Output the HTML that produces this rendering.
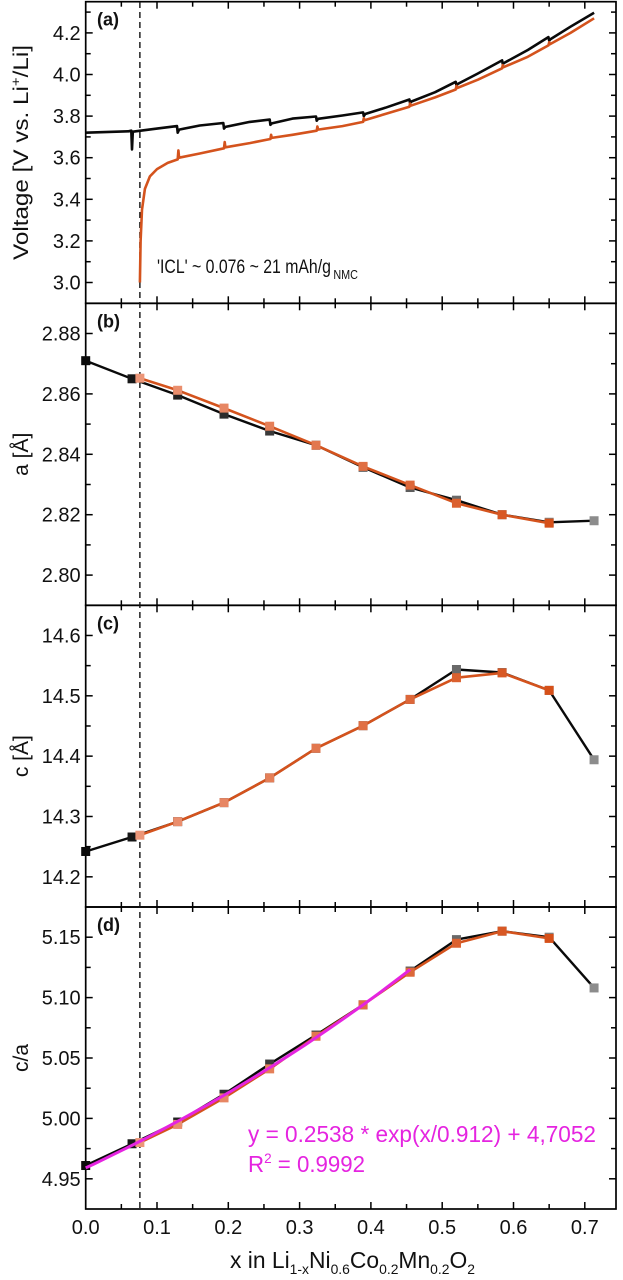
<!DOCTYPE html>
<html><head><meta charset="utf-8"><style>
html,body{margin:0;padding:0;background:#fff;}
svg{display:block;font-family:"Liberation Sans",Arial,sans-serif;}
</style></head><body>
<svg id="chart" width="623" height="1280" viewBox="0 0 623 1280" xmlns="http://www.w3.org/2000/svg"></svg>
<script>
// ---- data ----
const xTickLabels = ["0.0","0.1","0.2","0.3","0.4","0.5","0.6","0.7"];
const voltBlackX = [0,0.06,0.064,0.065,0.066,0.1,0.128,0.129,0.131,0.16,0.193,0.194,0.196,0.23,0.258,0.259,0.261,0.29,0.323,0.324,0.326,0.36,0.389,0.39,0.392,0.42,0.454,0.455,0.457,0.49,0.519,0.52,0.522,0.55,0.584,0.585,0.587,0.62,0.649,0.65,0.652,0.68,0.713];
const voltBlackY = [3.72,3.727,3.73,3.64,3.725,3.74,3.752,3.72,3.735,3.755,3.767,3.74,3.748,3.772,3.783,3.758,3.765,3.788,3.798,3.778,3.787,3.803,3.818,3.80,3.81,3.84,3.88,3.862,3.87,3.915,3.965,3.948,3.955,4.005,4.068,4.05,4.056,4.118,4.18,4.163,4.17,4.23,4.297];
const voltOrangeX = [0.076,0.077,0.079,0.083,0.09,0.1,0.115,0.129,0.13,0.131,0.16,0.194,0.195,0.196,0.23,0.259,0.26,0.261,0.29,0.324,0.325,0.326,0.36,0.389,0.39,0.391,0.42,0.454,0.455,0.456,0.49,0.519,0.52,0.521,0.55,0.584,0.585,0.586,0.62,0.649,0.65,0.651,0.68,0.713];
const voltOrangeY = [3.0,3.2,3.35,3.45,3.51,3.545,3.575,3.592,3.635,3.6,3.62,3.645,3.675,3.65,3.67,3.69,3.71,3.695,3.71,3.73,3.75,3.735,3.752,3.772,3.79,3.78,3.81,3.845,3.86,3.85,3.89,3.928,3.945,3.935,3.975,4.03,4.045,4.035,4.085,4.14,4.155,4.145,4.2,4.27];
const blackX = [0,0.065,0.129,0.194,0.258,0.323,0.389,0.455,0.52,0.584,0.65,0.713];
const orangeX = [0.076,0.129,0.194,0.258,0.323,0.389,0.455,0.52,0.584,0.65];
const aBlack = [2.871,2.865,2.8596,2.8533,2.8477,2.843,2.8357,2.829,2.8248,2.820,2.8175,2.818];
const aOrange = [2.8652,2.8612,2.8553,2.8493,2.843,2.836,2.8298,2.8238,2.820,2.8172];
const cBlack = [14.242,14.266,14.2915,14.323,14.364,14.413,14.4505,14.494,14.5436,14.5386,14.509,14.394];
const cOrange = [14.269,14.2915,14.323,14.364,14.413,14.4505,14.494,14.530,14.538,14.509];
const caBlack = [4.961,4.979,4.997,5.020,5.045,5.069,5.094,5.122,5.148,5.155,5.150,5.108];
const caOrange = [4.980,4.995,5.017,5.041,5.068,5.094,5.121,5.145,5.155,5.149];
const fitParams = [0.2538,0.912,4.7052];
const fitRange = [0,0.455];
const iclX = [0.076];

// ---- layout ----
const NS="http://www.w3.org/2000/svg";
const svg=document.getElementById('chart');
const L=85.7, R=616, X0=0, X1=0.7, XP1=584.8;
const xs=v=>L+(v-X0)/(X1-X0)*(XP1-L);
const panels=[
 {id:'a',top:1.7,bot:303.3,min:2.9,max:4.35,major:0.2,minor:0.1,first:3.0,last:4.2,dec:1},
 {id:'b',top:303.3,bot:605.3,min:2.79,max:2.89,major:0.02,minor:0.01,first:2.80,last:2.88,dec:2},
 {id:'c',top:605.3,bot:907,min:14.15,max:14.65,major:0.1,minor:0.05,first:14.2,last:14.6,dec:1},
 {id:'d',top:907,bot:1209,min:4.925,max:5.175,major:0.05,minor:0.025,first:4.95,last:5.15,dec:2}
];
function mk(tag,attrs,parent){const e=document.createElementNS(NS,tag);for(const k in attrs)e.setAttribute(k,attrs[k]);(parent||svg).appendChild(e);return e;}
function ysOf(p){return v=>p.bot-(v-p.min)/(p.max-p.min)*(p.bot-p.top);}

panels.forEach((p)=>{
  const g=mk('g',{});
  
  
  const ys=ysOf(p);
  const fr=mk('rect',{x:L,y:p.top,width:R-L,height:p.bot-p.top,fill:'none',stroke:'#000','stroke-width':1.7},g);
  
  
  const n=Math.round((p.max-p.min)/p.minor)+2;
  for(let i=-2;i<n;i++){
    const v=p.first+i*p.minor;
    const y=ys(v); if(y<p.top+1||y>p.bot-1) continue;
    const isMaj=(i%2===0);
    const len=isMaj?7:5;
    mk('line',{x1:L,x2:L+len,y1:y,y2:y,stroke:'#000','stroke-width':1.5},g);
    mk('line',{x1:R-len,x2:R,y1:y,y2:y,stroke:'#000','stroke-width':1.5},g);
    if(isMaj){
      const t=mk('text',{x:L-5,y:y+7,'font-size':20,'text-anchor':'end',fill:'#111'},g);
      t.textContent=v.toFixed(p.dec);
      
      
    }
  }
  for(let i=0;i<=15;i++){
    const v=i*0.05; const x=xs(v); if(x<L+1||x>R-1) continue;
    const len=(i%2===0)?7:5;
    mk('line',{x1:x,x2:x,y1:p.bot,y2:p.bot-len,stroke:'#000','stroke-width':1.5},g);
    mk('line',{x1:x,x2:x,y1:p.top,y2:p.top+len,stroke:'#000','stroke-width':1.5},g);
  }
  const pl=mk('text',{x:97,y:p.top+24,'font-size':18,'font-weight':'bold',fill:'#111'},g);
  pl.textContent='('+p.id+')';
  
  
  p.ys=ys;
});

xTickLabels.forEach((s,i)=>{
  const t=mk('text',{x:xs(i*0.1),y:1234,'font-size':20,'text-anchor':'middle',fill:'#111'});
  t.textContent=s;
  
  
});
const xt=mk('text',{x:230,y:1268,'font-size':23,fill:'#111',textLength:245,lengthAdjust:'spacingAndGlyphs'});


xt.innerHTML='x in Li<tspan font-size="14" dy="6">1-x</tspan><tspan dy="-6">Ni</tspan><tspan font-size="14" dy="6">0.6</tspan><tspan dy="-6">Co</tspan><tspan font-size="14" dy="6">0.2</tspan><tspan dy="-6">Mn</tspan><tspan font-size="14" dy="6">0.2</tspan><tspan dy="-6">O</tspan><tspan font-size="14" dy="6">2</tspan>';

function ytitle(p,html,name,len){
  const cy=(p.top+p.bot)/2;
  const a={x:0,y:0,'font-size':21,'text-anchor':'middle',fill:'#111',transform:`translate(28,${cy}) rotate(-90)`};
  if(len){a.textLength=len;a.lengthAdjust='spacingAndGlyphs';}
  const t=mk('text',a);
  t.innerHTML=html;
  
  
}
ytitle(panels[0],'Voltage [V vs. Li<tspan font-size="13" dy="-8">+</tspan><tspan dy="8">/Li]</tspan>','y-axis-title-voltage',215);
ytitle(panels[1],'a [Å]','y-axis-title-a');
ytitle(panels[2],'c [Å]','y-axis-title-c');
ytitle(panels[3],'c/a','y-axis-title-c-over-a');

const dl=mk('line',{x1:xs(iclX[0]),x2:xs(iclX[0]),y1:2,y2:1209,stroke:'#111','stroke-width':1.4,'stroke-dasharray':'6,4'});



function path(xsArr,ysArr,ys,color,w,name){
  const d=xsArr.map((x,i)=>(i?'L':'M')+xs(x).toFixed(1)+','+ys(ysArr[i]).toFixed(1)).join(' ');
  const e=mk('path',{d:d,fill:'none',stroke:color,'stroke-width':w,'stroke-linejoin':'round'});
  
  
}
function lerpCol(c1,c2,t){return 'rgb('+c1.map((v,i)=>Math.round(v+(c2[i]-v)*t)).join(',')+')';}
function markers(xsArr,ysArr,ys,c1,c2,name){
  xsArr.forEach((x,i)=>{
    const t=xsArr.length>1?i/(xsArr.length-1):0;
    const r=mk('rect',{x:xs(x)-4.5,y:ys(ysArr[i])-4.5,width:9,height:9,fill:lerpCol(c1,c2,t)});
    
    
  });
}
const OR='#d4531d', BK='#0a0a0a';
path(voltBlackX,voltBlackY,panels[0].ys,BK,2.6,'voltage-curve-first-cycle');
path(voltOrangeX,voltOrangeY,panels[0].ys,OR,2.6,'voltage-curve-second-cycle');
const ann=mk('text',{x:157,y:273,'font-size':19,fill:'#111',textLength:201,lengthAdjust:'spacingAndGlyphs'});
ann.innerHTML=`'ICL' ~ 0.076 ~ 21 mAh/g<tspan font-size="13" dx="3" dy="6">NMC</tspan>`;


const BC1=[10,10,10],BC2=[140,140,140],OC1=[236,150,120],OC2=[214,80,25];
[[aBlack,aOrange,1,'a'],[cBlack,cOrange,2,'c'],[caBlack,caOrange,3,'ca']].forEach(([bk,or,pi,n])=>{
  const ys=panels[pi].ys;
  path(blackX,bk,ys,BK,2.4,n+'-line-black');
  path(orangeX,or,ys,OR,2.6,n+'-line-orange');
  markers(blackX,bk,ys,BC1,BC2,n+'-marker-black');
  markers(orangeX,or,ys,OC1,OC2,n+'-marker-orange');
});
const fitXs=[],fitYs=[];
for(let i=0;i<=40;i++){const x=fitRange[0]+(fitRange[1]-fitRange[0])*i/40;fitXs.push(x);fitYs.push(fitParams[0]*Math.exp(x/fitParams[1])+fitParams[2]);}
path(fitXs,fitYs,panels[3].ys,'#e524e0',3,'exp-fit-line');
const f1=mk('text',{x:248,y:1142,'font-size':23,fill:'#e524e0',textLength:348,lengthAdjust:'spacingAndGlyphs'});
f1.textContent='y = 0.2538 * exp(x/0.912) + 4,7052';


const f2=mk('text',{x:248,y:1172,'font-size':23,fill:'#e524e0',textLength:117,lengthAdjust:'spacingAndGlyphs'});
f2.innerHTML='R<tspan font-size="14" dy="-9">2</tspan><tspan dy="9"> = 0.9992</tspan>';


</script>
</body></html>
